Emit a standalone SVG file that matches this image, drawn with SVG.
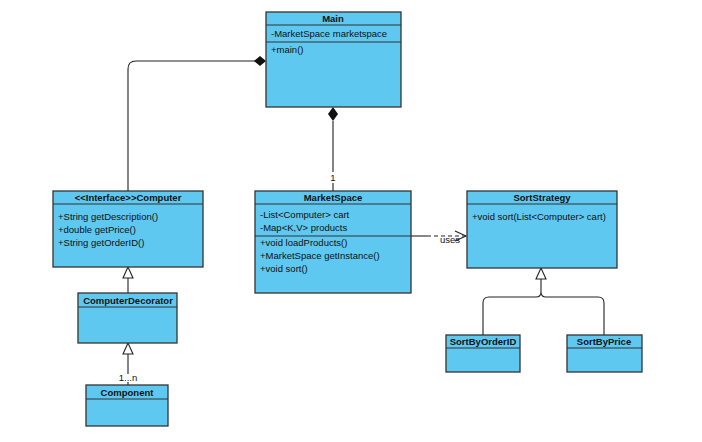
<svg xmlns="http://www.w3.org/2000/svg" width="702" height="442" viewBox="0 0 702 442">
<style>
.b{fill:#5ec8f0;stroke:#333;stroke-width:1.3}
.l{stroke:#333;stroke-width:1.2;fill:none}
.t{font-family:"Liberation Sans",Arial,sans-serif;font-size:9.5px;fill:#111}
.h{font-weight:bold;text-anchor:middle}
.c{fill:none;stroke:#222;stroke-width:1.1}
</style>
<rect width="702" height="442" fill="#fff"/>
<g id="connectors">
<path class="c" d="M258 61 H136 Q128 61 128 69 V191"/>
<path d="M266 61 l-6 -5 l-6 5 l6 5 z" fill="#111"/>
<path class="c" d="M333 121 V172 M333 183 V191"/>
<path d="M333 107 l-5 7 l5 7 l5 -7 z" fill="#111"/>
<text class="t" x="333" y="181" text-anchor="middle" font-size="8.5">1</text>
<path class="c" d="M411 236 H427" />
<path class="c" d="M427 236 H466" stroke-dasharray="4,3"/>
<path class="c" d="M455 231 L466 236 L455 241"/>
<text class="t" x="440" y="243" font-size="8.5" fill="#333">uses</text>
<path class="c" d="M541 279 V292 Q541 297 536 297 H489 Q483 297 483 303 V335 M541 292 Q541 297 546 297 H598 Q604 297 604 303 V335"/>
<path d="M541 268 l-5 11 h10 z" fill="#fff" stroke="#222" stroke-width="1.1"/>
<path class="c" d="M128 278 V293"/>
<path d="M128 267 l-5 11 h10 z" fill="#fff" stroke="#222" stroke-width="1.1"/>
<path class="c" d="M128 354 V374 M128 382 V385"/>
<path d="M128 343 l-5 11 h10 z" fill="#fff" stroke="#222" stroke-width="1.1"/>
<text class="t" x="128" y="381" text-anchor="middle" font-size="8.5">1...n</text>
</g>
<g id="Main">
<rect class="b" x="266" y="12" width="135" height="95"/>
<path class="l" d="M266 25 H401 M266 42 H401"/>
<text class="t h" x="333" y="22">Main</text>
<text class="t" x="271" y="37">-MarketSpace marketspace</text>
<text class="t" x="271" y="53">+main()</text>
</g>
<g id="Computer">
<rect class="b" x="53" y="191" width="150" height="76"/>
<path class="l" d="M53 204 H203"/>
<text class="t h" x="128" y="201">&lt;&lt;Interface&gt;&gt;Computer</text>
<text class="t" x="58" y="220">+String getDescription()</text>
<text class="t" x="58" y="233">+double getPrice()</text>
<text class="t" x="58" y="246">+String getOrderID()</text>
</g>
<g id="MarketSpace">
<rect class="b" x="255" y="191" width="156" height="102"/>
<path class="l" d="M255 204 H411 M255 236 H411"/>
<text class="t h" x="333" y="201">MarketSpace</text>
<text class="t" x="260" y="218">-List&lt;Computer&gt; cart</text>
<text class="t" x="260" y="231">-Map&lt;K,V&gt; products</text>
<text class="t" x="260" y="246">+void loadProducts()</text>
<text class="t" x="260" y="259">+MarketSpace getInstance()</text>
<text class="t" x="260" y="272">+void sort()</text>
</g>
<g id="SortStrategy">
<rect class="b" x="467" y="191" width="150" height="77"/>
<path class="l" d="M467 204 H617"/>
<text class="t h" x="542" y="201">SortStrategy</text>
<text class="t" x="472" y="220">+void sort(List&lt;Computer&gt; cart)</text>
</g>
<g id="SortByOrderID">
<rect class="b" x="446" y="335" width="74" height="37"/>
<path class="l" d="M446 348 H520"/>
<text class="t h" x="483" y="345">SortByOrderID</text>
</g>
<g id="SortByPrice">
<rect class="b" x="567" y="335" width="75" height="37"/>
<path class="l" d="M567 348 H642"/>
<text class="t h" x="604" y="345">SortByPrice</text>
</g>
<g id="ComputerDecorator">
<rect class="b" x="78" y="293" width="99" height="50"/>
<path class="l" d="M78 307 H177"/>
<text class="t h" x="128" y="304">ComputerDecorator</text>
</g>
<g id="Component">
<rect class="b" x="86" y="385" width="82" height="41"/>
<path class="l" d="M86 399 H168"/>
<text class="t h" x="127" y="396">Component</text>
</g>
</svg>
